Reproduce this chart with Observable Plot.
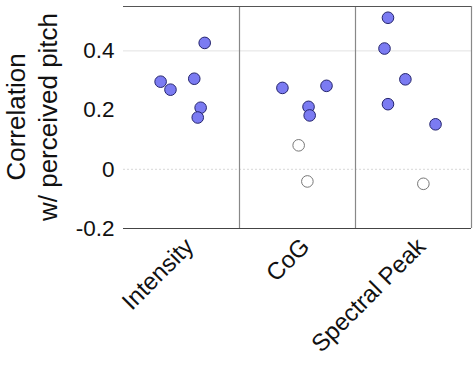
<!DOCTYPE html>
<html>
<head>
<meta charset="utf-8">
<script src="https://cdn.jsdelivr.net/npm/d3@7"></script>
<script src="https://cdn.jsdelivr.net/npm/@observablehq/plot@0.6"></script>
<style>
  html, body { margin: 0; padding: 0; background: #fff; }
  #chart { width: 474px; height: 365px; }
</style>
</head>
<body>
<div id="chart"></div>
<script>
const categories = ["Intensity", "CoG", "Spectral Peak"];
const pointCategory = [
  "Intensity","Intensity","Intensity","Intensity","Intensity","Intensity",
  "CoG","CoG","CoG","CoG","CoG","CoG",
  "Spectral Peak","Spectral Peak","Spectral Peak","Spectral Peak","Spectral Peak","Spectral Peak"
];
const correlation = [
  0.296, 0.269, 0.306, 0.427, 0.208, 0.175,
  0.275, 0.282, 0.211, 0.182, 0.081, -0.041,
  0.512, 0.408, 0.304, 0.220, 0.152, -0.049
];
const jitter = [
  -0.18, -0.095, 0.11, 0.20, 0.165, 0.14,
  -0.13, 0.25, 0.095, 0.105, 0.01, 0.085,
  -0.22, -0.25, -0.07, -0.22, 0.19, 0.085
];
const significant = [
  true, true, true, true, true, true,
  true, true, true, true, false, false,
  true, true, true, true, true, false
];
const yTicks = [-0.2, 0, 0.2, 0.4];
const yLabelLines = ["Correlation", "w/ perceived pitch"];

const data = correlation.map((v, i) => ({
  cat: pointCategory[i], v, j: jitter[i], sig: significant[i]
}));

const yMin = -0.2, yMax = 0.55;
const fmt = d => d === 0 ? "0" : (d < 0 ? "-" : "") + Math.abs(d).toFixed(1);

const chart = Plot.plot({
  width: 474,
  height: 365,
  marginLeft: 122,
  marginRight: 3,
  marginTop: 6,
  marginBottom: 137,
  style: { fontFamily: "Liberation Sans, Arial, sans-serif", background: "#fff", color: "#111" },
  fx: { domain: categories, padding: 0, label: null },
  x: { domain: [-0.5, 0.5], axis: null },
  y: { domain: [yMin, yMax], label: null },
  marks: [
    Plot.ruleY([0.4], { stroke: "#e2e2e2", strokeWidth: 1 }),
    Plot.ruleY([0], { stroke: "#d8d8d8", strokeWidth: 1, strokeDasharray: "2,2" }),
    Plot.ruleX([0.5], { stroke: "#888", strokeWidth: 1.2 }),
    Plot.ruleY([yMax], { stroke: "#555", strokeWidth: 1.2 }),
    Plot.ruleY([yMin], { stroke: "#444", strokeWidth: 1.2 }),
    Plot.axisY({ ticks: yTicks, tickSize: 0, tickPadding: 9, fontSize: 22.5, label: null, tickFormat: fmt }),
    Plot.axisFx({ anchor: "bottom", tickSize: 0, tickRotate: -45, fontSize: 24, tickPadding: 0, label: null, dx: 8, dy: 14 }),
    Plot.dot(data.filter(d => !d.sig), { fx: "cat", x: "j", y: "v", r: 5.8, fill: "#fff", stroke: "#777", strokeWidth: 1 }),
    Plot.dot(data.filter(d => d.sig), { fx: "cat", x: "j", y: "v", r: 5.8, fill: "#7b7bf2", stroke: "#24246e", strokeWidth: 1 })
  ]
});

document.getElementById("chart").appendChild(chart);

const svg = d3.select(chart);
const cy = 117;
const xs = [25, 57];
yLabelLines.forEach((t, i) => {
  svg.append("text")
    .attr("transform", `translate(${xs[i]},${cy}) rotate(-90)`)
    .attr("text-anchor", "middle")
    .attr("font-size", 26)
    .attr("font-family", "Liberation Sans, Arial, sans-serif")
    .attr("fill", "#111")
    .text(t);
});
</script>
</body>
</html>
